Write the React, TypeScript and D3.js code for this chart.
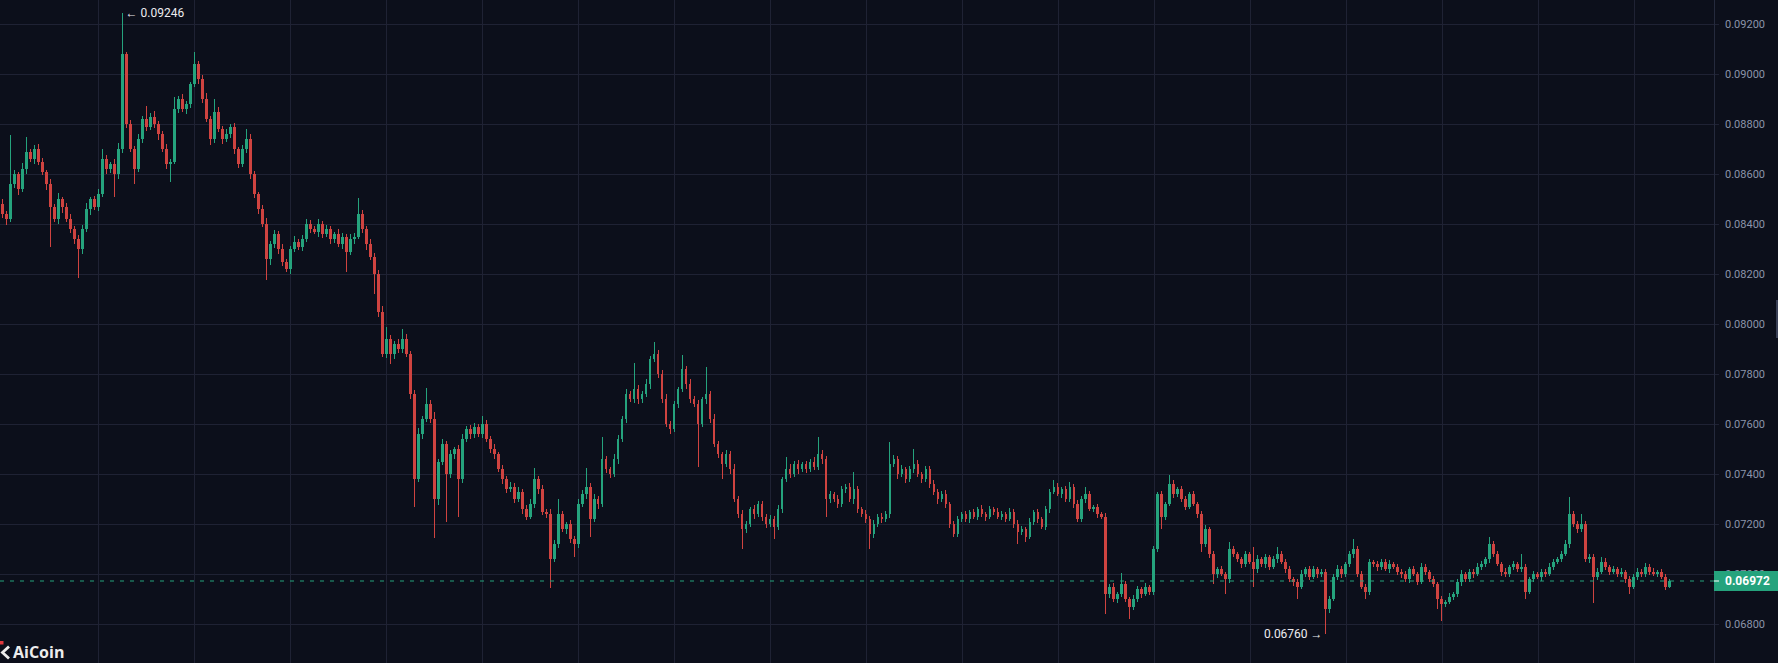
import React, {useMemo} from 'react';
import * as d3 from 'd3';

// prices are stored in units of 0.00001
const firstOpen = 8480;

const closes = [
  8440, 8420, 8560, 8600, 8540, 8620, 8690, 8660, 8700, 8650,
  8610, 8560, 8470, 8420, 8500, 8470, 8420, 8380, 8340, 8300,
  8380, 8460, 8500, 8470, 8520, 8660, 8620, 8640, 8600, 8700,
  9080, 8800, 8700, 8620, 8740, 8820, 8790, 8830, 8800, 8760,
  8700, 8640, 8650, 8860, 8900, 8860, 8880, 8960, 9040, 8980,
  8900, 8820, 8740, 8850, 8780, 8740, 8760, 8790, 8700, 8640,
  8700, 8740, 8600, 8520, 8460, 8400, 8260, 8320, 8360, 8300,
  8250, 8220, 8300, 8330, 8310, 8340, 8400, 8380, 8370, 8400,
  8360, 8380, 8340, 8360, 8320, 8350, 8290, 8340, 8350, 8440,
  8380, 8320, 8270, 8200, 8050, 7880, 7940, 7880, 7920, 7900,
  7940, 7880, 7720, 7380, 7560, 7620, 7680, 7620, 7300, 7450,
  7520, 7400, 7480, 7500, 7380, 7540, 7580, 7560, 7590, 7560,
  7600, 7540, 7500, 7480, 7420, 7380, 7340, 7350, 7300, 7330,
  7260, 7230, 7280, 7380, 7340, 7250, 7240, 7060, 7120, 7240,
  7180, 7200, 7140, 7120, 7280, 7320, 7350, 7220, 7300, 7280,
  7460, 7420, 7400, 7460, 7540, 7620, 7720, 7700, 7740, 7700,
  7720, 7760, 7860, 7880, 7800, 7700, 7600, 7580, 7680, 7740,
  7820, 7760, 7700, 7680, 7600, 7700, 7720, 7620, 7520, 7480,
  7440, 7480, 7420, 7300, 7240, 7180, 7200, 7260, 7240, 7280,
  7230, 7200, 7220, 7190, 7260, 7380, 7420, 7400, 7440, 7420,
  7440, 7420, 7450, 7430, 7480, 7460, 7300, 7320, 7300, 7280,
  7340, 7350, 7300, 7340, 7260, 7240, 7220, 7160, 7200, 7230,
  7220, 7240, 7440, 7460, 7400, 7420, 7380, 7420, 7440, 7400,
  7380, 7420, 7360, 7330, 7300, 7320, 7280, 7200, 7160, 7220,
  7240, 7220, 7250, 7230, 7260, 7240, 7230, 7260, 7250, 7230,
  7240, 7220, 7250, 7200, 7170, 7180, 7150, 7210, 7250, 7220,
  7190, 7260, 7330, 7350, 7320, 7340, 7300, 7350, 7280, 7220,
  7300, 7320, 7260, 7270, 7240, 7230, 6920, 6950, 6900, 6920,
  6960, 6900, 6870, 6900, 6940, 6920, 6950, 6930, 7100, 7320,
  7230, 7280, 7360, 7320, 7340, 7300, 7270, 7320, 7280, 7240,
  7120, 7180, 7080, 7000, 7020, 7000, 6980, 7100, 7080, 7060,
  7040, 7080, 7050, 7020, 7060, 7040, 7070, 7030, 7060, 7080,
  7050, 7020, 6980, 6970, 6950, 7000, 7020, 6990, 7020, 7000,
  7010, 6860, 6900, 6990, 7020, 7000, 7040, 7080, 7100, 7000,
  6950, 6930, 7050, 7040, 7030, 7050, 7020, 7040, 7030, 7010,
  7000, 6980, 7020, 7000, 6970, 7030, 7010, 6980, 6960, 6900,
  6880, 6890, 6910, 6920, 6970, 7000, 6980, 7010, 7000, 7030,
  7040, 7060, 7120, 7080, 7040, 7010, 7000, 7030, 7040, 7020,
  7030, 6930, 6980, 7000, 6990, 7010, 7000, 7030, 7050, 7060,
  7080, 7120, 7240, 7200, 7180, 7200, 7060, 7070, 6990, 7010,
  7050, 7030, 7010, 7020, 7000, 7010, 6980, 6950, 6990, 7010,
  7000, 7030, 7010, 7000, 7010, 6990, 6950, 6972,
];

const wickUp = [
  20, 14, 12, 18, 10, 25, 14, 12, 16, 22, 14, 8, 20, 12, 26, 10, 16, 22, 12, 18,
  16, 24, 10, 14, 20, 12, 18, 9, 22, 14, 10, 8, 18, 12, 20, 14, 10, 16, 24, 12,
  14, 20, 10, 16, 12, 22, 14, 10, 18, 12, 16, 24, 12, 10, 18, 14, 20, 12, 16, 10,
  18, 12, 22, 14, 10, 16, 24, 12, 18, 14, 20, 10, 14, 22, 12, 16, 10, 18, 14, 20,
  12, 18, 14, 10, 22, 16, 12, 20, 14, 10, 16, 12, 20, 14, 18, 24, 10, 16, 12, 20,
  14, 22, 12, 18, 26, 14, 10, 16, 28, 12, 20, 14, 18, 10, 16, 22, 12, 18, 14, 10,
  12, 18, 14, 22, 10, 16, 12, 20, 14, 18, 12, 16, 22, 10, 14, 18, 12, 20, 16, 12,
  14, 10, 18, 12, 20, 16, 10, 14, 22, 12, 18, 14, 10, 20, 16, 12, 22, 14, 10, 18,
  12, 20, 14, 10, 18, 16, 22, 12, 14, 10, 16, 12, 20, 14, 18, 10, 16, 12, 22, 14,
  10, 16, 12, 20, 14, 18, 12, 10, 16, 12, 14, 10, 18, 12, 16, 10, 14, 20, 12, 16,
  10, 14, 12, 18, 10, 16, 12, 14, 10, 18, 12, 10, 16, 12, 14, 10, 18, 12, 16, 10,
  14, 12, 10, 16, 12, 18, 10, 14, 12, 16, 10, 14, 12, 18, 10, 12, 16, 10, 14, 12,
  10, 14, 8, 12, 10, 16, 8, 12, 10, 14, 12, 8, 14, 10, 16, 12, 10, 14, 8, 12,
  10, 14, 12, 8, 16, 10, 12, 14, 10, 16, 12, 10, 14, 8, 12, 10, 16, 12, 14, 10,
  12, 14, 10, 16, 12, 10, 14, 8, 12, 10, 14, 10, 12, 16, 10, 14, 12, 8, 14, 10,
  12, 16, 10, 14, 8, 12, 10, 14, 12, 10, 8, 14, 10, 12, 16, 10, 12, 8, 14, 10,
  12, 10, 14, 8, 12, 16, 10, 12, 14, 8, 10, 12, 14, 10, 16, 12, 8, 14, 10, 12,
  14, 10, 12, 8, 14, 10, 12, 16, 8, 12, 10, 14, 8, 12, 10, 16, 12, 8, 14, 10,
  12, 8, 14, 10, 12, 16, 8, 12, 10, 14, 12, 10, 8, 14, 12, 10, 16, 8, 12, 10,
  8, 12, 10, 14, 8, 12, 10, 14, 12, 8, 12, 16, 10, 14, 12, 8, 14, 10, 12, 16,
  10, 14, 8, 12, 10, 14, 8, 12, 10, 14, 12, 8, 10, 14, 8, 12, 10, 8,
];

const wickDown = [
  16, 22, 10, 14, 24, 12, 18, 10, 20, 14, 12, 22, 16, 10, 18, 24, 12, 16, 20, 14,
  18, 12, 22, 14, 16, 10, 20, 14, 12, 18, 14, 16, 12, 20, 10, 14, 18, 12, 16, 22,
  12, 18, 14, 10, 16, 12, 20, 14, 10, 18, 14, 12, 22, 16, 10, 18, 12, 14, 20, 16,
  12, 16, 20, 14, 18, 12, 10, 22, 14, 18, 16, 12, 20, 10, 14, 18, 12, 16, 10, 22,
  14, 12, 18, 16, 10, 20, 14, 12, 18, 10, 16, 22, 12, 14, 20, 10, 16, 12, 18, 14,
  16, 12, 20, 14, 10, 18, 12, 16, 14, 22, 12, 18, 14, 20, 10, 16, 12, 18, 14, 12,
  16, 10, 14, 18, 12, 20, 14, 10, 16, 12, 18, 14, 10, 16, 20, 12, 14, 18, 10, 16,
  12, 18, 14, 10, 16, 12, 20, 14, 10, 18, 12, 16, 14, 10, 18, 12, 16, 10, 14, 20,
  14, 12, 18, 10, 16, 14, 12, 20, 10, 16, 12, 18, 14, 10, 16, 12, 20, 14, 10, 16,
  14, 12, 18, 10, 16, 12, 14, 10, 18, 12, 16, 14, 10, 18, 12, 14, 10, 16, 12, 18,
  12, 16, 10, 14, 12, 18, 10, 16, 12, 14, 10, 16, 12, 18, 14, 10, 16, 12, 14, 10,
  16, 12, 14, 10, 18, 12, 16, 10, 14, 12, 16, 10, 14, 12, 18, 10, 14, 16, 12, 10,
  12, 10, 14, 8, 12, 10, 16, 8, 12, 10, 14, 12, 8, 16, 10, 14, 12, 8, 12, 14,
  10, 12, 16, 10, 8, 14, 12, 10, 16, 12, 10, 14, 8, 12, 16, 10, 12, 14, 10, 16,
  12, 10, 14, 12, 10, 16, 8, 14, 12, 10, 14, 12, 8, 16, 10, 12, 14, 10, 8, 14,
  10, 12, 14, 10, 16, 8, 12, 14, 10, 12, 16, 10, 8, 12, 14, 10, 16, 12, 8, 14,
  10, 14, 12, 16, 10, 8, 12, 14, 10, 16, 12, 10, 14, 8, 12, 16, 10, 12, 14, 10,
  8, 14, 12, 10, 16, 12, 8, 14, 10, 12, 14, 10, 16, 8, 12, 10, 14, 12, 10, 16,
  10, 12, 8, 14, 10, 16, 12, 10, 14, 8, 12, 10, 14, 12, 8, 16, 10, 12, 14, 10,
  12, 14, 8, 12, 10, 16, 12, 8, 14, 10, 12, 8, 14, 10, 16, 12, 10, 14, 8, 12,
  10, 12, 14, 8, 12, 10, 16, 12, 8, 14, 10, 12, 14, 8, 12, 10, 14, 6,
];

// long wicks: [candle index, price]
const spikeHighs: [number, number][] = [
  [2, 8756], [6, 8750], [25, 8700], [29, 8724], [30, 9246], [31, 9090],
  [36, 8872], [43, 8908], [48, 9088], [53, 8900], [61, 8780], [76, 8420],
  [89, 8504], [96, 7990], [100, 7980], [106, 7744], [120, 7632], [133, 7424],
  [139, 7300], [146, 7424], [150, 7550], [158, 7844], [163, 7930], [170, 7876],
  [176, 7828], [196, 7470], [204, 7550], [213, 7408], [222, 7528], [228, 7500],
  [263, 7376], [267, 7370], [271, 7350], [280, 7004], [292, 7396], [307, 7130],
  [313, 7110], [319, 7110], [338, 7140], [372, 7148], [380, 7080], [392, 7308],
  [395, 7240], [400, 7070], [411, 7045],
];

const spikeLows: [number, number][] = [
  [12, 8310], [19, 8184], [28, 8510], [33, 8560], [42, 8570], [66, 8176],
  [86, 8210], [93, 8120], [97, 7840], [103, 7268], [108, 7144], [111, 7210],
  [114, 7230], [137, 6944], [143, 7070], [147, 7150], [174, 7428], [180, 7380],
  [185, 7100], [193, 7140], [206, 7230], [217, 7100], [254, 7120], [256, 7130],
  [276, 6840], [282, 6820], [290, 7180], [300, 7090], [303, 6960], [306, 6920],
  [313, 6950], [324, 6900], [331, 6760], [341, 6900], [359, 6860], [360, 6812],
  [381, 6900], [398, 6884], [407, 6920],
];

const priceDomain = [0.068, 0.092];

const W = 1778;
const H = 663;
const axisX = 1714;
const plotRight = 1672;

const BG = '#0c0f1b';
const GRID = '#1f2234';
const UP = '#25a37d';
const DOWN = '#cf4340';
const LABEL = '#8b94a9';

interface Candle {
  i: number;
  open: number;
  close: number;
  high: number;
  low: number;
}

const App: React.FC = () => {
  const candles = useMemo<Candle[]>(() => {
    const hi = new Map(spikeHighs);
    const lo = new Map(spikeLows);
    return closes.map((c, i) => {
      const o = i ? closes[i - 1] : firstOpen;
      const high = hi.get(i) ?? Math.max(o, c) + (wickUp[i] ?? 10);
      const low = lo.get(i) ?? Math.min(o, c) - (wickDown[i] ?? 10);
      return {i, open: o / 1e5, close: c / 1e5, high: high / 1e5, low: low / 1e5};
    });
  }, []);

  const y = d3.scaleLinear().domain(priceDomain).range([624, 24]);
  const x = d3
    .scaleBand<number>()
    .domain(candles.map((d) => d.i))
    .range([0, plotRight])
    .padding(0.35);
  const bw = x.bandwidth();
  const cx = (i: number) => (x(i) ?? 0) + bw / 2;

  const ticks = y.ticks(12);
  const fmt = d3.format('.5f');
  const gridX = d3.range(98, axisX, 96);

  const last = candles[candles.length - 1];
  const top = candles.reduce((a, b) => (b.high > a.high ? b : a));
  const bottom = candles.reduce((a, b) => (b.low < a.low ? b : a));
  const lastY = y(last.close);

  return (
    <div style={{position: 'fixed', left: 0, top: 0, width: W, height: H, background: BG}}>
      <svg width={W} height={H} style={{display: 'block', fontFamily: 'Roboto, "Noto Sans", sans-serif'}}>
        <rect width={W} height={H} fill={BG} />

        <g shapeRendering='crispEdges' stroke={GRID} strokeWidth={1}>
          {ticks.map((t) => (
            <line key={t} x1={0} x2={axisX + 5} y1={Math.round(y(t)) + 0.5} y2={Math.round(y(t)) + 0.5} />
          ))}
          {gridX.map((gx) => (
            <line key={gx} x1={gx + 0.5} x2={gx + 0.5} y1={0} y2={H} />
          ))}
          <line x1={axisX + 0.5} x2={axisX + 0.5} y1={0} y2={H} stroke='#252a3d' />
        </g>

        <g shapeRendering='crispEdges'>
          {candles.map((d) => {
            const col = d.close >= d.open ? UP : DOWN;
            const yt = y(Math.max(d.open, d.close));
            const yb = y(Math.min(d.open, d.close));
            return (
              <g key={d.i}>
                <line x1={cx(d.i)} x2={cx(d.i)} y1={y(d.high)} y2={y(d.low)} stroke={col} strokeWidth={1} />
                <rect x={x(d.i)} y={yt} width={bw} height={Math.max(1, yb - yt)} fill={col} />
              </g>
            );
          })}
        </g>

        <line x1={0} x2={axisX} y1={lastY} y2={lastY} stroke={UP} strokeWidth={1} strokeDasharray='4 6' />

        <g fontSize={11} fill={LABEL}>
          {ticks.map((t) => (
            <text key={t} x={axisX + 11} y={y(t)} dy='0.35em'>
              {fmt(t)}
            </text>
          ))}
        </g>

        <rect x={axisX} y={lastY - 10} width={W - axisX} height={20} fill={UP} />
        <line x1={axisX} x2={axisX + 5} y1={lastY} y2={lastY} stroke='#ffffff' />
        <text x={axisX + 11} y={lastY} dy='0.36em' fontSize={12} fontWeight='bold' fill='#ffffff'>
          {fmt(last.close)}
        </text>

        <text x={cx(top.i) + 3} y={y(top.high)} dy='0.35em' fontSize={12} fill='#ececf0'>
          {'\u2190 ' + fmt(top.high)}
        </text>
        <text x={cx(bottom.i) - 3} y={y(bottom.low)} dy='0.35em' fontSize={12} fill='#ececf0' textAnchor='end'>
          {fmt(bottom.low) + ' \u2192'}
        </text>

        <rect x={W - 2} y={300} width={2} height={38} fill='#3a4056' />

        {/* logo */}
        <g>
          <path d='M9 646.5 L2.5 652.5 L9 658.5' fill='none' stroke='#ececec' strokeWidth={2.8} />
          <rect x={0} y={641} width={3.5} height={3.5} fill='#e0393e' />
          <text x={13} y={658} fontSize={16} fontWeight='bold' fill='#ececec' fontFamily='"Open Sans", Roboto, sans-serif'>
            AiCoin
          </text>
        </g>
      </svg>
    </div>
  );
};

export default App;
